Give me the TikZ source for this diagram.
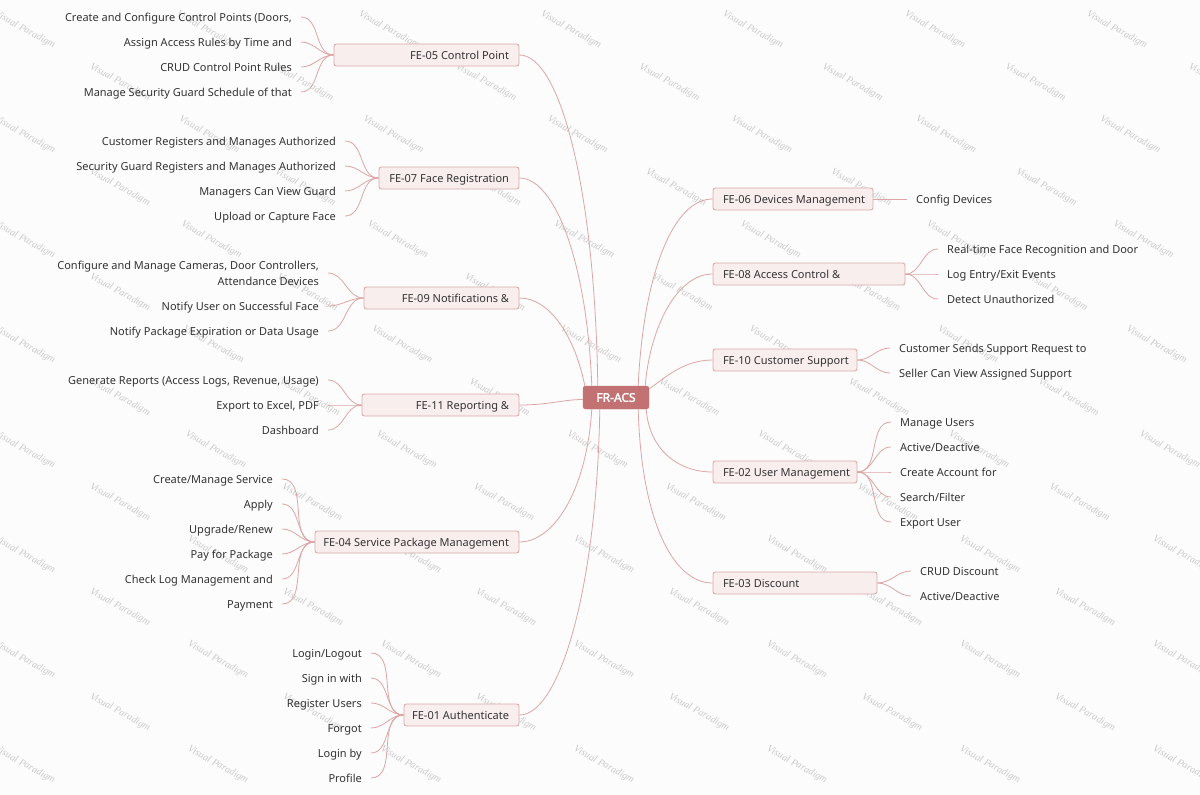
\documentclass[tikz,border=0pt]{standalone}
\usepackage{fontspec}
\setmainfont{Noto Sans}
\newfontfamily\wmfont{Liberation Serif}
\newfontfamily\rootfont{Noto Sans}[FakeBold=2.2]
\definecolor{bg}{HTML}{FCFCFC}
\definecolor{ln}{HTML}{DDA5A5}
\definecolor{bxfill}{HTML}{F8EEEE}
\definecolor{bxdraw}{HTML}{DDA9A9}
\definecolor{rootc}{HTML}{C27272}
\definecolor{txt}{HTML}{333333}
\definecolor{wmc}{HTML}{CACACA}
\newcommand{\rtext}[2]{\makebox[#1][r]{#2}}
\newcommand{\ltext}[2]{\makebox[#1][l]{#2}}
\begin{document}
\begin{tikzpicture}[x=1pt,y=-1pt,
  box/.style={draw=bxdraw, fill=bxfill, rounded corners=2.5pt, minimum height=22pt,
    inner xsep=10pt, inner ysep=0pt, font=\fontsize{11}{13}\selectfont, text=txt, line width=0.9pt,
    text height=9.5pt, text depth=0.5pt},
  leaf/.style={inner xsep=9pt, inner ysep=1pt, font=\fontsize{11}{16}\selectfont, text=txt,
    text height=9.5pt, text depth=0.5pt},
  lleaf/.style={leaf, anchor=east, align=right},
  rleaf/.style={leaf, anchor=west, align=left},
  conn/.style={draw=ln, line width=0.8pt},
  wm/.style={font=\wmfont\itshape\fontsize{10}{10}\selectfont, text=wmc, rotate=-29, inner sep=0pt}
]
\useasboundingbox (0,0) rectangle (1200,795);
\fill[bg] (0,0) rectangle (1200,795);
% watermark
\foreach \k in {0,...,14} {
  \pgfmathsetmacro\yy{30+52.5*\k}
  \pgfmathsetmacro\sp{182+11*min(1,(\yy-30)/525)}
  \pgfmathsetmacro\xo{ifthenelse(mod(\k,2)==0,25,120)}
  \foreach \j in {0,...,6} {
    \node[wm] (wm\k-\j) at ({\xo+\j*\sp},\yy) {Visual Paradigm};
  }
}
% root
\node[fill=rootc, draw=rootc, rounded corners=2.5pt, minimum width=66pt, minimum height=23pt,
  inner sep=0pt, text=white, font=\rootfont\fontsize{12}{14}\selectfont] (root) at (616,397.5) {FR-ACS};
% level 1 left
\node[box] (fe05) at (426.5,55) {\rtext{165pt}{FE-05 Control Point}};
\node[box] (fe07) at (449,178) {\rtext{120pt}{FE-07 Face Registration}};
\node[box] (fe09) at (441.5,298) {\rtext{135pt}{FE-09 Notifications \&}};
\node[box] (fe11) at (440.5,405) {\rtext{137pt}{FE-11 Reporting \&}};
\node[box] (fe04) at (417,542) {\rtext{184pt}{FE-04 Service Package Management}};
\node[box] (fe01) at (461.5,715) {\rtext{95pt}{FE-01 Authenticate}};
% level 1 right
\node[box] (fe06) at (793,199) {\ltext{140pt}{FE-06 Devices Management}};
\node[box] (fe08) at (809,274) {\ltext{172pt}{FE-08 Access Control \&}};
\node[box] (fe10) at (785,360) {\ltext{124pt}{FE-10 Customer Support}};
\node[box] (fe02) at (785,472) {\ltext{124pt}{FE-02 User Management}};
\node[box] (fe03) at (795,583) {\ltext{144pt}{FE-03 Discount}};
% main connectors
\draw[conn] (fe05.east) .. controls +(40,0) and +(-3,-200) .. ([xshift=15pt]root.north west);
\draw[conn] (fe07.east) .. controls +(35,0) and +(-5,-125) .. ([xshift=9pt]root.north west);
\draw[conn] (fe09.east) .. controls +(30,0) and +(-10,-50) .. ([xshift=2pt]root.north west);
\draw[conn] (fe11.east) .. controls +(30,0) and +(-20,0) .. ([yshift=-2pt]root.west);
\draw[conn] (fe04.east) .. controls +(35,0) and +(-5,80) .. ([xshift=9pt]root.south west);
\draw[conn] (fe01.east) .. controls +(40,0) and +(-3,180) .. ([xshift=17pt]root.south west);
\draw[conn] (fe06.west) .. controls +(-40,0) and +(5,-110) .. ([xshift=-11pt]root.north east);
\draw[conn] (fe08.west) .. controls +(-35,0) and +(5,-60) .. ([xshift=-4pt]root.north east);
\draw[conn] (fe10.west) .. controls +(-30,0) and +(15,-10) .. ([yshift=-3pt]root.north east);
\draw[conn] (fe02.west) .. controls +(-35,0) and +(3,40) .. ([xshift=-3pt]root.south east);
\draw[conn] (fe03.west) .. controls +(-40,0) and +(3,110) .. ([xshift=-11pt]root.south east);
% FE-05 leaves
\node[lleaf] (a1) at (301,17) {Create and Configure Control Points (Doors,};
\node[lleaf] (a2) at (301,42) {Assign Access Rules by Time and};
\node[lleaf] (a3) at (301,67) {CRUD Control Point Rules};
\node[lleaf] (a4) at (301,92) {Manage Security Guard Schedule of that};
\foreach \n in {a1,a2,a3,a4} \draw[conn] (\n.east) to[out=0,in=180] (fe05.west);
% FE-07 leaves
\node[lleaf] (b1) at (345,141) {Customer Registers and Manages Authorized};
\node[lleaf] (b2) at (345,166) {Security Guard Registers and Manages Authorized};
\node[lleaf] (b3) at (345,191) {Managers Can View Guard};
\node[lleaf] (b4) at (345,216) {Upload or Capture Face};
\foreach \n in {b1,b2,b3,b4} \draw[conn] (\n.east) to[out=0,in=180] (fe07.west);
% FE-09 leaves
\node[lleaf] (c1) at (328,281) {Configure and Manage Cameras, Door Controllers,\\Attendance Devices};
\node[lleaf] (c2) at (328,306) {Notify User on Successful Face};
\node[lleaf] (c3) at (328,331) {Notify Package Expiration or Data Usage};
\draw[conn] ([yshift=8pt]c1.east) to[out=0,in=180] (fe09.west);
\foreach \n in {c2,c3} \draw[conn] (\n.east) to[out=0,in=180] (fe09.west);
% FE-11 leaves
\node[lleaf] (d1) at (328,380) {Generate Reports (Access Logs, Revenue, Usage)};
\node[lleaf] (d2) at (328,405) {Export to Excel, PDF};
\node[lleaf] (d3) at (328,430) {Dashboard};
\foreach \n in {d1,d2,d3} \draw[conn] (\n.east) to[out=0,in=180] (fe11.west);
% FE-04 leaves
\node[lleaf] (e1) at (282,479) {Create/Manage Service};
\node[lleaf] (e2) at (282,504) {Apply};
\node[lleaf] (e3) at (282,529) {Upgrade/Renew};
\node[lleaf] (e4) at (282,554) {Pay for Package};
\node[lleaf] (e5) at (282,579) {Check Log Management and};
\node[lleaf] (e6) at (282,604) {Payment};
\foreach \n in {e1,e2,e3,e4,e5,e6} \draw[conn] (\n.east) to[out=0,in=180] (fe04.west);
% FE-01 leaves
\node[lleaf] (f1) at (371,653) {Login/Logout};
\node[lleaf] (f2) at (371,678) {Sign in with};
\node[lleaf] (f3) at (371,703) {Register Users};
\node[lleaf] (f4) at (371,728) {Forgot};
\node[lleaf] (f5) at (371,753) {Login by};
\node[lleaf] (f6) at (371,778) {Profile};
\foreach \n in {f1,f2,f3,f4,f5,f6} \draw[conn] (\n.east) to[out=0,in=180] (fe01.west);
% FE-06 leaves
\node[rleaf] (g1) at (907,199) {Config Devices};
\draw[conn] (fe06.east) -- (g1.west);
% FE-08 leaves
\node[rleaf] (h1) at (938,249) {Real-time Face Recognition and Door};
\node[rleaf] (h2) at (938,274) {Log Entry/Exit Events};
\node[rleaf] (h3) at (938,299) {Detect Unauthorized};
\foreach \n in {h1,h2,h3} \draw[conn] (fe08.east) to[out=0,in=180] (\n.west);
% FE-10 leaves
\node[rleaf] (i1) at (890,348) {Customer Sends Support Request to};
\node[rleaf] (i2) at (890,373) {Seller Can View Assigned Support};
\foreach \n in {i1,i2} \draw[conn] (fe10.east) to[out=0,in=180] (\n.west);
% FE-02 leaves
\node[rleaf] (j1) at (891,422) {Manage Users};
\node[rleaf] (j2) at (891,447) {Active/Deactive};
\node[rleaf] (j3) at (891,472) {Create Account for};
\node[rleaf] (j4) at (891,497) {Search/Filter};
\node[rleaf] (j5) at (891,522) {Export User};
\foreach \n in {j1,j2,j3,j4,j5} \draw[conn] (fe02.east) to[out=0,in=180] (\n.west);
% FE-03 leaves
\node[rleaf] (k1) at (911,571) {CRUD Discount};
\node[rleaf] (k2) at (911,596) {Active/Deactive};
\foreach \n in {k1,k2} \draw[conn] (fe03.east) to[out=0,in=180] (\n.west);
\end{tikzpicture}
\end{document}
